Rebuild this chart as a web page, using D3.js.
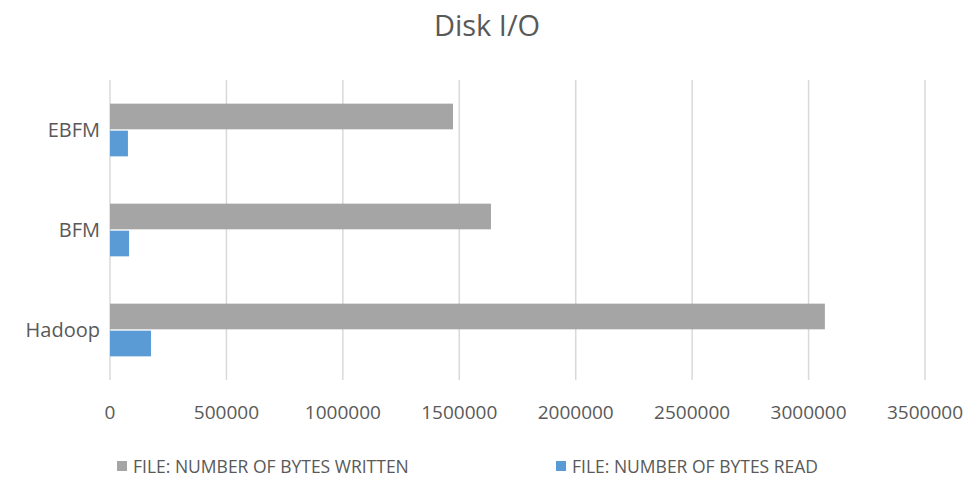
<!DOCTYPE html>
<html><head><meta charset="utf-8">
<script src="https://cdn.jsdelivr.net/npm/d3@7"></script>
<style>body{margin:0;background:#fff}text{font-family:"Open Sans","Noto Sans",sans-serif;fill:#595959}</style>
</head><body><svg id="c" width="975" height="483"></svg>
<script>
const categories=["EBFM","BFM","Hadoop"];
const seriesNames=["FILE: NUMBER OF BYTES WRITTEN","FILE: NUMBER OF BYTES READ"];
const written=[1473000,1636000,3070000];
const read=[77000,82000,176000];
const ticks=[0,500000,1000000,1500000,2000000,2500000,3000000,3500000];
const colors=["#A5A5A5","#5B9BD5"];
const svg=d3.select("#c");
const x=d3.scaleLinear().domain([0,3500000]).range([110,925]);
const y=d3.scaleBand().domain(categories).range([80,380]).paddingInner(0).paddingOuter(0);
const inner=d3.scaleBand().domain([0,1]).range([0,y.bandwidth()]).paddingOuter(0.875).paddingInner(0.05);
svg.append("text").attr("x",487).attr("y",36).attr("text-anchor","middle").style("font-size","29px").text("Disk I/O");
svg.selectAll(".g").data(ticks).enter().append("line").attr("x1",d=>x(d)).attr("x2",d=>x(d)).attr("y1",80).attr("y2",380).attr("stroke","#D9D9D9").attr("stroke-width",1.5);
svg.selectAll(".t").data(ticks).enter().append("text").attr("x",d=>x(d)).attr("y",419).attr("text-anchor","middle").style("font-size","19px").text(d=>d);
[written,read].forEach((vals,s)=>{
 svg.selectAll(".b"+s).data(vals).enter().append("rect").attr("x",x(0)).attr("y",(d,i)=>y(categories[i])+inner(s)).attr("height",inner.bandwidth()).attr("width",d=>x(d)-x(0)).attr("fill",colors[s]);
});
svg.selectAll(".c").data(categories).enter().append("text").attr("x",100).attr("y",d=>y(d)+y.bandwidth()/2+7).attr("text-anchor","end").style("font-size","20px").text(d=>d);
const lx=[117,556];
seriesNames.forEach((n,i)=>{
 svg.append("rect").attr("x",lx[i]).attr("y",461).attr("width",10).attr("height",10).attr("fill",colors[i]);
 svg.append("text").attr("x",lx[i]+16).attr("y",473).style("font-size","17.5px").text(n);
});
</script></body></html>
